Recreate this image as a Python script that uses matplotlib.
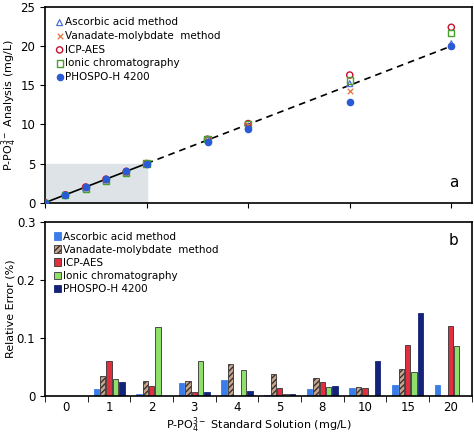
import matplotlib
matplotlib.use("Agg")
import matplotlib.pyplot as plt
import numpy as np

conc = [0, 1, 2, 3, 4, 5, 8, 10, 15, 20]
labels = ["Ascorbic acid method", "Vanadate-molybdate  method", "ICP-AES",
          "Ionic chromatography", "PHOSPO-H 4200"]

# panel a: measured concentration
ascorbic = [0, 1.0, 1.9, 2.9, 3.9, 5.0, 8.1, 9.8, 15.2, 20.3]
vanadate = [0, 1.0, 1.9, 2.9, 3.8, 4.9, 8.0, 9.9, 14.3, 20.0]
icp = [0, 1.0, 2.0, 3.0, 4.0, 5.0, 8.1, 10.1, 16.3, 22.4]
ionic = [0, 1.0, 1.7, 2.8, 3.8, 5.0, 8.1, 10.0, 15.6, 21.7]
phospo = [0, 1.0, 2.0, 3.0, 4.0, 4.9, 7.8, 9.4, 12.8, 20.0]

# panel b: relative error
err_asc = [0, 0.013, 0.004, 0.022, 0.028, 0.002, 0.013, 0.014, 0.020, 0.019]
err_van = [0, 0.035, 0.027, 0.027, 0.055, 0.038, 0.031, 0.015, 0.047, 0.001]
err_icp = [0, 0.060, 0.018, 0.008, 0.0, 0.014, 0.025, 0.014, 0.089, 0.121]
err_ion = [0, 0.030, 0.120, 0.060, 0.045, 0.004, 0.015, 0.0, 0.041, 0.086]
err_pho = [0, 0.025, 0.0, 0.008, 0.009, 0.004, 0.018, 0.061, 0.144, 0.0]

fig = plt.figure(figsize=(4.74, 4.33), dpi=100)
ax1 = fig.add_axes([0.095, 0.532, 0.9, 0.452])
ax2 = fig.add_axes([0.095, 0.085, 0.9, 0.402])

ax1.fill_between([0, 5], 0, 5, color="#dde3e6", zorder=0)
ax1.plot([0, 5], [0, 5], color="black", lw=1.2, zorder=1)
ax1.plot([5, 20], [5, 20], color="black", lw=1.2, ls=(0, (4, 3)), zorder=1)
ax1.scatter(conc, ascorbic, marker="^", facecolors="none", edgecolors="#4f6fd8", s=18, lw=0.9, label=labels[0], zorder=3)
ax1.scatter(conc, vanadate, marker="x", color="#e8743b", s=16, lw=0.9, label=labels[1], zorder=3)
ax1.scatter(conc, icp, marker="o", facecolors="none", edgecolors="#c8102e", s=20, lw=1.0, label=labels[2], zorder=3)
ax1.scatter(conc, ionic, marker="s", facecolors="none", edgecolors="#4aa02c", s=20, lw=1.0, label=labels[3], zorder=3)
ax1.scatter(conc, phospo, marker="o", color="#2a5bd7", s=20, label=labels[4], zorder=4)
ax1.set_xlim(0, 21)
ax1.set_ylim(0, 25)
ax1.set_xticks([0, 5, 10, 15, 20])
ax1.set_xticklabels([])
ax1.set_yticks([0, 5, 10, 15, 20, 25])
ax1.set_ylabel("P-PO$_4^{3-}$ Analysis (mg/L)", fontsize=8, labelpad=1)
ax1.text(0.97, 0.08, "a", transform=ax1.transAxes, ha="right", fontsize=11)
ax1.legend(loc="upper left", fontsize=7.5, frameon=False, handletextpad=0.1,
           handlelength=0.8, labelspacing=0.35, borderaxespad=0.6)

x = np.arange(len(conc))
w = 0.15
series = [err_asc, err_van, err_icp, err_ion, err_pho]
colors = ["#3b7de8", "#c9a48c", "#e0303f", "#8fe06a", "#14237a"]
for i, (vals, c) in enumerate(zip(series, colors)):
    kw = dict(color=c, edgecolor="#333333" if i in (1, 2, 3) else c, lw=0.6)
    if i == 1:
        kw["hatch"] = "//////"
    ax2.bar(x + (i - 2) * w, vals, w * 0.85, label=labels[i], **kw)
ax2.set_xlim(-0.5, len(conc) - 0.5)
ax2.set_ylim(0, 0.3)
ax2.set_xticks(x)
ax2.set_xticklabels([str(c) for c in conc])
ax2.set_xticks(np.arange(len(conc) + 1) - 0.5, minor=True)
ax2.tick_params(axis="x", which="major", length=0)
ax2.tick_params(axis="x", which="minor", length=4)
ax2.set_yticks([0, 0.1, 0.2, 0.3])
ax2.set_yticklabels(["0", "0.1", "0.2", "0.3"])
ax2.set_ylabel("Relative Error (%)", fontsize=8, labelpad=1)
ax2.set_xlabel("P-PO$_4^{3-}$ Standard Solution (mg/L)", fontsize=8, labelpad=1)
ax2.text(0.97, 0.87, "b", transform=ax2.transAxes, ha="right", fontsize=11)
ax2.legend(loc="upper left", fontsize=7.5, frameon=False, handletextpad=0.2,
           handlelength=0.6, handleheight=0.7, labelspacing=0.3, borderaxespad=0.5)

for ax in (ax1, ax2):
    ax.tick_params(labelsize=8.5)
    for s in ax.spines.values():
        s.set_linewidth(1.2)

fig.savefig("out.png", dpi=100)
